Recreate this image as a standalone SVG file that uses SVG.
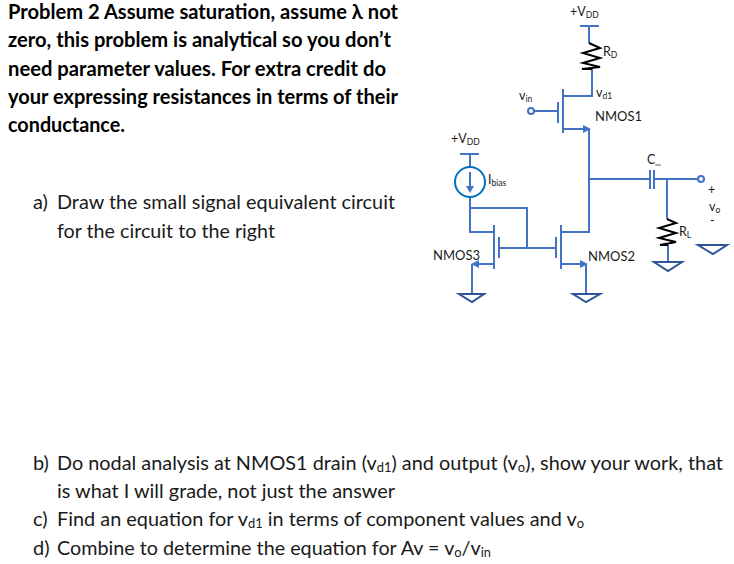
<svg xmlns="http://www.w3.org/2000/svg" width="734" height="564" viewBox="0 0 734 564">
<style>
text{font-family:Lato,"Noto Sans",sans-serif;fill:#1a1a1a}
.h{font-size:20px;font-weight:700;fill:#000}
.b{font-size:20px}
.l{font-size:12.5px}
.s{font-size:8.5px}
.w{fill:none;stroke:#4472C4;stroke-width:2}
.r{fill:none;stroke:#000;stroke-width:2}
.g{fill:none;stroke:#2F5597;stroke-width:2}
.a{fill:#4472C4;stroke:none}
</style>
<rect width="734" height="564" fill="#fff"/>
<g id="problem-text">
<text class="h" x="8" y="19" textLength="390" lengthAdjust="spacingAndGlyphs">Problem 2 Assume saturation, assume λ not</text>
<text class="h" x="8" y="47" textLength="383" lengthAdjust="spacingAndGlyphs">zero, this problem is analytical so you don’t</text>
<text class="h" x="8" y="76" textLength="378" lengthAdjust="spacingAndGlyphs">need parameter values. For extra credit do</text>
<text class="h" x="8" y="104" textLength="390" lengthAdjust="spacingAndGlyphs">your expressing resistances in terms of their</text>
<text class="h" x="8" y="132" textLength="117" lengthAdjust="spacingAndGlyphs">conductance.</text>
<text class="b" x="33" y="209">a)</text>
<text class="b" x="57" y="209" textLength="338" lengthAdjust="spacingAndGlyphs">Draw the small signal equivalent circuit</text>
<text class="b" x="57" y="238" textLength="218" lengthAdjust="spacingAndGlyphs">for the circuit to the right</text>
<text class="b" x="33" y="470">b)</text>
<text class="b" x="57" y="470" textLength="666" lengthAdjust="spacingAndGlyphs">Do nodal analysis at NMOS1 drain (v<tspan font-size="13" dy="2">d1</tspan><tspan dy="-2">) and output (v</tspan><tspan font-size="13" dy="2">o</tspan><tspan dy="-2">), show your work, that</tspan></text>
<text class="b" x="57" y="498" textLength="338" lengthAdjust="spacingAndGlyphs">is what I will grade, not just the answer</text>
<text class="b" x="33" y="526">c)</text>
<text class="b" x="57" y="526" textLength="527" lengthAdjust="spacingAndGlyphs">Find an equation for v<tspan font-size="13" dy="2">d1</tspan><tspan dy="-2"> in terms of component values and v</tspan><tspan font-size="13" dy="2">o</tspan></text>
<text class="b" x="33" y="555">d)</text>
<text class="b" x="57" y="555" textLength="434" lengthAdjust="spacingAndGlyphs">Combine to determine the equation for Av = v<tspan font-size="13" dy="2">o</tspan><tspan dy="-2">/v</tspan><tspan font-size="13" dy="2">in</tspan></text>
</g>
<g id="connectors">
<path class="w" d="M589 26V43M592 69V96H563M558 111H534M563 129H584M589 129V232H561M589 179H650M654 179H698M667 179V219M668 245V262"/>
<path class="w" d="M470 154V166M470 197V232H494M470 208H527V248M499 248H556M494 264H478M472 264V293M561 264H581M586 264V293"/>
</g>
<g id="vdd-top"><path class="w" d="M580 26H599"/><text class="l" x="570" y="16">+V<tspan class="s" dy="2">DD</tspan></text></g>
<g id="rd"><path class="r" d="M589 43L600 48L583 53L600 58L583 63L600 67L582 69H592"/><text class="l" x="603" y="56">R<tspan class="s" dy="2">D</tspan></text></g>
<g id="nmos1"><path class="w" d="M563 89V133M558 102V123"/><path class="a" d="M591 129L583 125V133Z"/><text class="l" x="596" y="97">v<tspan class="s" dy="2">d1</tspan></text><text x="595" y="121" font-size="13">NMOS1</text></g>
<g id="vin"><circle class="w" cx="531" cy="111" r="3"/><text class="l" x="519" y="100">v<tspan class="s" dy="2">in</tspan></text></g>
<g id="vdd-left"><path class="w" d="M460 154H479"/><text class="l" x="451" y="143">+V<tspan class="s" dy="2">DD</tspan></text></g>
<g id="ibias"><circle cx="470" cy="182" r="15" fill="none" stroke="#0070C0" stroke-width="2"/><path class="w" d="M470 172V188"/><path class="a" d="M470 193L466 186H474Z"/><text class="l" x="488" y="184">I<tspan class="s" dy="2">bias</tspan></text></g>
<g id="nmos2"><path class="w" d="M561 225V269M556 237V258"/><path class="a" d="M588 264L580 260V268Z"/><text x="588" y="261" font-size="13">NMOS2</text></g>
<g id="nmos3"><path class="w" d="M494 225V269M499 237V258"/><path class="a" d="M471 264L479 260V268Z"/><text x="433" y="260" font-size="13">NMOS3</text></g>
<g id="gnd-nmos3"><path class="g" d="M459 294H484L472 302Z"/></g>
<g id="gnd-nmos2"><path class="g" d="M573 294H600L586 302Z"/></g>
<g id="cap"><path class="w" d="M650 170V189M654 170V189"/><text class="l" x="647" y="164">C<tspan font-size="4.5" dy="2">oo</tspan></text></g>
<g id="rl"><path class="r" d="M667 219L676 223L659 228L676 233L659 238L676 242L660 245H668"/><text class="l" x="679" y="236">R<tspan class="s" dy="2">L</tspan></text></g>
<g id="gnd-rl"><path class="g" d="M654 262H682L668 271Z"/></g>
<g id="vo"><circle class="w" cx="701" cy="179" r="3"/><text class="l" x="708" y="194">+</text><text class="l" x="709" y="211">v<tspan class="s" dy="2">o</tspan></text><text class="l" x="710" y="225">-</text></g>
<g id="gnd-vo"><path class="g" d="M698 245H727L713 254Z"/></g>
</svg>
